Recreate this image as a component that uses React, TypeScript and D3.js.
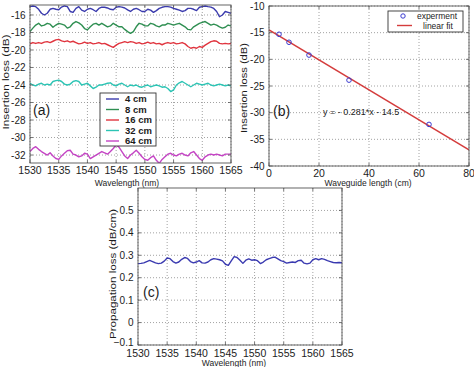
import React from "react";
import * as d3 from "d3";

// ---------- DATA ----------
const WAVELENGTHS: number[] = d3.range(0, 71).map((i) => 1530 + i * 0.5);

const LOSS_4CM = [
  -15.05, -14.98, -15.05, -15.35, -15.8, -16.0, -15.8, -15.35, -15.25, -15.35,
  -15.4, -15.1, -14.97, -15.05, -15.6, -15.7, -15.25, -15.05, -15.45, -15.6,
  -15.35, -15.25, -15.4, -15.6, -15.25, -15.1, -15.12, -15.2, -15.35, -15.4,
  -15.12, -15.05, -15.1, -15.2, -15.42, -15.6, -15.35, -15.25, -15.4, -15.6,
  -15.6, -15.35, -15.45, -15.7, -15.5, -15.25, -15.12, -15.05, -15.05, -15.1,
  -15.25, -15.35, -15.45, -15.6, -15.5, -15.25, -15.25, -15.35, -15.5, -15.12,
  -15.05, -14.98, -15.05, -15.1, -15.25, -15.6, -16.2, -16.0, -15.6, -15.7,
  -15.8,
];
const LOSS_8CM = [
  -17.9, -17.5, -17.15, -16.95, -17.25, -17.15, -16.95, -17.05, -17.4, -17.15,
  -16.95, -17.05, -17.15, -17.5, -17.35, -16.95, -16.75, -16.9, -17.15, -17.55,
  -17.7, -17.35, -17.05, -16.95, -17.15, -16.95, -17.15, -17.35, -17.25, -16.95,
  -17.15, -17.35, -17.35, -17.65, -17.9, -18.1, -17.9, -17.35, -16.95, -17.05,
  -17.25, -17.25, -16.95, -17.05, -17.25, -17.35, -17.15, -17.15, -16.95, -17.05,
  -17.15, -17.05, -16.95, -17.15, -17.35, -17.65, -17.7, -17.35, -17.15, -16.95,
  -16.85, -16.75, -16.95, -17.15, -17.05, -17.15, -17.35, -17.5, -17.4, -17.15,
  -17.25,
];
const LOSS_16CM = [
  -19.3, -19.15, -19.25, -19.15, -19.25, -19.1, -19.05, -19.15, -19.0, -18.85,
  -18.78, -18.95, -19.05, -18.95, -19.1, -19.0, -19.15, -19.3, -19.25, -19.1,
  -19.25, -19.15, -19.3, -19.25, -19.15, -19.3, -19.25, -19.4, -19.55, -19.7,
  -19.45, -19.25, -19.15, -19.05, -19.15, -19.05, -19.1, -19.25, -19.15, -19.3,
  -19.25, -19.1, -19.25, -19.15, -19.3, -19.25, -19.4, -19.25, -19.15, -19.25,
  -19.15, -19.3, -19.25, -19.15, -19.3, -19.6, -19.8, -19.7, -19.8, -19.6,
  -19.7, -19.45, -19.25, -19.05, -18.95, -19.0, -19.25, -19.3, -19.25, -19.3,
  -19.25,
];
const LOSS_32CM = [
  -23.8, -24.0, -24.1, -23.9, -23.8, -24.0, -23.9, -24.0, -23.6, -23.5,
  -23.45, -23.6, -23.9, -24.0, -23.9, -23.6, -23.5, -23.6, -24.0, -23.9,
  -23.8, -24.1, -24.4, -24.25, -24.0, -24.0, -23.9, -23.8, -23.75, -24.0,
  -24.1, -23.9, -23.8, -24.0, -24.2, -24.0, -24.1, -24.0, -24.2, -24.25,
  -24.1, -24.0, -24.2, -24.1, -24.0, -24.1, -24.25, -24.2, -24.4, -24.75,
  -24.55, -24.0, -23.75, -23.6, -23.8, -24.0, -24.2, -24.0, -23.8, -23.9,
  -24.0, -23.9, -23.8, -24.0, -24.1, -24.0, -23.9, -24.0, -24.1, -24.0,
  -24.1,
];
const LOSS_64CM = [
  -31.6, -31.25, -31.05, -31.35, -31.6, -31.8, -32.0, -31.75, -32.1, -32.4,
  -32.5, -32.1, -31.8, -31.5, -31.45, -31.9, -32.0, -32.2, -32.1, -31.8,
  -31.9, -32.4, -32.2, -32.0, -31.8, -31.6, -31.75, -31.9, -31.6, -31.25,
  -30.85, -31.1, -31.6, -32.1, -32.4, -32.0, -31.75, -31.45, -31.8, -32.2,
  -32.5, -32.6, -32.3, -32.1, -32.6, -32.95, -32.5, -32.2, -31.9, -31.8,
  -32.0, -32.1, -31.9, -31.8, -32.0, -32.1, -31.75, -31.6, -32.0, -32.4,
  -32.6, -32.2, -32.0, -31.9, -32.0, -31.9, -32.0, -32.1, -31.9, -31.9,
  -31.9,
];
const SERIES_NAMES = ["4 cm", "8 cm", "16 cm", "32 cm", "64 cm"];
const SERIES_COLORS = ["#3a3aad", "#2f8f52", "#e0343e", "#2cc4b4", "#c444c4"];
const SERIES_VALUES = [LOSS_4CM, LOSS_8CM, LOSS_16CM, LOSS_32CM, LOSS_64CM];

const LENGTHS_CM = [4, 8, 16, 32, 64];
const LOSS_MEASURED = [-15.3, -16.8, -19.2, -23.9, -32.2];
const FIT_X = [0, 80];
const FIT_Y = [-14.5, -36.98];

const PROP_LOSS = [
  0.263, 0.264, 0.266, 0.272, 0.277, 0.272, 0.266, 0.263, 0.265, 0.274,
  0.288, 0.285, 0.272, 0.265, 0.27, 0.282, 0.29, 0.286, 0.272, 0.266,
  0.27, 0.276, 0.266, 0.265, 0.27, 0.28, 0.285, 0.283, 0.28, 0.275,
  0.26, 0.255, 0.275, 0.294, 0.29, 0.278, 0.264, 0.278, 0.284, 0.278,
  0.28, 0.276, 0.263, 0.27, 0.28, 0.285, 0.29, 0.292, 0.284, 0.276,
  0.272, 0.265, 0.268, 0.27, 0.268, 0.276, 0.278, 0.265, 0.262, 0.265,
  0.28, 0.285, 0.28, 0.285, 0.282, 0.276, 0.272, 0.268, 0.267, 0.268,
  0.267,
];

const WL_TICKS = [1530, 1535, 1540, 1545, 1550, 1555, 1560, 1565];
const A_Y_TICKS = [-32, -30, -28, -26, -24, -22, -20, -18, -16];
const B_X_TICKS = [0, 20, 40, 60, 80];
const B_Y_TICKS = [-40, -35, -30, -25, -20, -15, -10];
const C_Y_TICKS = [-0.1, 0, 0.1, 0.2, 0.3, 0.4, 0.5];

// ---------- STYLE ----------
const FONT = "'Liberation Sans', Arial, Helvetica, sans-serif";
const TEXT = "#1c1c1c";
const XTICK_FS = 10.5;
const YTICK_FS = 10;

type AxesProps = {
  x: d3.ScaleLinear<number, number>;
  y: d3.ScaleLinear<number, number>;
  xTicks: number[];
  yTicks: number[];
  yFmt?: (v: number) => string;
  xLabelDy?: number;
  yLabelDy?: (v: number) => number;
  children?: React.ReactNode;
};

function Axes({ x, y, xTicks, yTicks, yFmt, xLabelDy = 11, yLabelDy, children }: AxesProps) {
  const [x0, x1] = x.range();
  const [y0, y1] = y.range(); // y0 bottom, y1 top
  const clipId = `clip-${Math.round(x0)}-${Math.round(y1)}`;
  return (
    <g>
      <defs>
        <clipPath id={clipId}>
          <rect x={x0} y={y1} width={x1 - x0} height={y0 - y1} />
        </clipPath>
      </defs>
      <rect x={x0} y={y1} width={x1 - x0} height={y0 - y1} fill="#fff" />
      {xTicks.map((t) => (
        <line key={"gx" + t} x1={x(t)} x2={x(t)} y1={y0} y2={y1}
          stroke="#8a8a8a" strokeWidth={0.8} strokeDasharray="1,2" />
      ))}
      {yTicks.map((t) => (
        <line key={"gy" + t} x1={x0} x2={x1} y1={y(t)} y2={y(t)}
          stroke="#8a8a8a" strokeWidth={0.8} strokeDasharray="1,2" />
      ))}
      <g clipPath={`url(#${clipId})`}>{children}</g>
      <rect x={x0} y={y1} width={x1 - x0} height={y0 - y1} fill="none"
        stroke="#555" strokeWidth={0.9} />
      {xTicks.map((t) => (
        <g key={"tx" + t}>
          <line x1={x(t)} x2={x(t)} y1={y0} y2={y0 - 3} stroke="#555" strokeWidth={0.8} />
          <line x1={x(t)} x2={x(t)} y1={y1} y2={y1 + 3} stroke="#555" strokeWidth={0.8} />
          <text x={x(t)} y={y0 + xLabelDy} textAnchor="middle" fontSize={XTICK_FS}
            fontFamily={FONT} fill={TEXT}>{t}</text>
        </g>
      ))}
      {yTicks.map((t) => (
        <g key={"ty" + t}>
          <line x1={x0} x2={x0 + 3} y1={y(t)} y2={y(t)} stroke="#555" strokeWidth={0.8} />
          <line x1={x1} x2={x1 - 3} y1={y(t)} y2={y(t)} stroke="#555" strokeWidth={0.8} />
          <text x={x0 - 4.5} y={y(t) + (yLabelDy ? yLabelDy(t) : 3.6)} textAnchor="end"
            fontSize={YTICK_FS} fontFamily={FONT} fill={TEXT}>{yFmt ? yFmt(t) : t}</text>
        </g>
      ))}
    </g>
  );
}

export default function App() {
  // Panel (a)
  const xa = d3.scaleLinear().domain([1530, 1565]).range([30, 231]);
  const ya = d3.scaleLinear().domain([-32.91, -14.86]).range([163, 5]);
  const lineA = (vals: number[]) =>
    d3.line<number>().x((_, i) => xa(WAVELENGTHS[i])).y((v) => ya(v))(vals) || "";

  // Panel (b)
  const xb = d3.scaleLinear().domain([0, 80]).range([269, 469]);
  const yb = d3.scaleLinear().domain([-40, -10]).range([166, 6]);
  const fitPath =
    d3.line<number>().x((v) => xb(v)).y((_, i) => yb(FIT_Y[i]))(FIT_X) || "";

  // Panel (c)
  const xc = d3.scaleLinear().domain([1530, 1565]).range([138, 342]);
  const yc = d3.scaleLinear().domain([-0.1, 0.6]).range([345, 188]);
  const lineC =
    d3.line<number>().x((_, i) => xc(WAVELENGTHS[i])).y((v) => yc(v))(PROP_LOSS) || "";

  const legendRows = [99, 109.5, 120, 130.5, 141];

  return (
    <svg width={474} height={367} viewBox="0 0 474 367"
      style={{ position: "absolute", left: 0, top: 0, background: "#fff" }}>
      <rect x={0} y={0} width={474} height={367} fill="#fff" />

      {/* ---------- (a) ---------- */}
      <Axes x={xa} y={ya} xTicks={WL_TICKS} yTicks={A_Y_TICKS}>
        {SERIES_VALUES.map((vals, k) => (
          <path key={k} d={lineA(vals)} fill="none" stroke={SERIES_COLORS[k]}
            strokeWidth={1.4} strokeLinejoin="round" />
        ))}
      </Axes>
      <text x={33} y={115} fontSize={14} fontFamily={FONT} fill={TEXT}>(a)</text>
      <g>
        <rect x={100} y={93} width={56} height={53} fill="#fff" stroke="#333" strokeWidth={0.9} />
        {SERIES_NAMES.map((name, k) => (
          <g key={name}>
            <line x1={106} x2={119} y1={legendRows[k]} y2={legendRows[k]}
              stroke={SERIES_COLORS[k]} strokeWidth={1.4} />
            <text x={125} y={legendRows[k] + 3.3} fontSize={9.5} fontWeight="bold"
              fontFamily={FONT} fill={TEXT}>{name}</text>
          </g>
        ))}
      </g>
      <text transform="translate(8.5,82) rotate(-90)" textAnchor="middle" fontSize={9}
        textLength={95} lengthAdjust="spacingAndGlyphs"
        fontFamily={FONT} fill={TEXT}>Insertion loss (dB)</text>
      <text x={127} y={186} textAnchor="middle" fontSize={8.5}
        fontFamily={FONT} fill={TEXT}>Wavelength (nm)</text>

      {/* ---------- (b) ---------- */}
      <Axes x={xb} y={yb} xTicks={B_X_TICKS} yTicks={B_Y_TICKS}>
        <path d={fitPath} fill="none" stroke="#d43c3c" strokeWidth={1.5} />
        {LENGTHS_CM.map((l, i) => (
          <circle key={l} cx={xb(l)} cy={yb(LOSS_MEASURED[i])} r={2.3}
            fill="none" stroke="#3a3ad0" strokeWidth={1} />
        ))}
      </Axes>
      <text x={273} y={116} fontSize={14} fontFamily={FONT} fill={TEXT}>(b)</text>
      <text x={323} y={115} fontSize={9} fontFamily={FONT} fill={TEXT}>y = - 0.281*x - 14.5</text>
      <g>
        <rect x={388} y={11} width={75} height={21} fill="#fff" stroke="#333" strokeWidth={0.9} />
        <circle cx={403} cy={16} r={2.2} fill="none" stroke="#3a3ad0" strokeWidth={1} />
        <text x={437} y={19} textAnchor="middle" fontSize={8.5} fontFamily={FONT} fill={TEXT}>experment</text>
        <line x1={397} x2={412} y1={25.5} y2={25.5} stroke="#d43c3c" strokeWidth={1.4} />
        <text x={438} y={28.5} textAnchor="middle" fontSize={8.5} fontFamily={FONT} fill={TEXT}>linear fit</text>
      </g>
      <text transform="translate(247,88) rotate(-90)" textAnchor="middle" fontSize={9}
        textLength={90} lengthAdjust="spacingAndGlyphs"
        fontFamily={FONT} fill={TEXT}>Insertion loss (dB)</text>
      <text x={368} y={186} textAnchor="middle" fontSize={8.5}
        fontFamily={FONT} fill={TEXT}>Waveguide length (cm)</text>

      {/* ---------- (c) ---------- */}
      <Axes x={xc} y={yc} xTicks={WL_TICKS} yTicks={C_Y_TICKS} xLabelDy={12}
        yLabelDy={(v) => (v < 0 ? 1.2 : 3.6)}
        yFmt={(v) => (v === 0 ? "0" : d3.format(".1f")(v))}>
        <path d={lineC} fill="none" stroke="#3a3ab0" strokeWidth={1.4} strokeLinejoin="round" />
      </Axes>
      <text x={143} y={297} fontSize={14} fontFamily={FONT} fill={TEXT}>(c)</text>
      <text transform="translate(116,274) rotate(-90)" textAnchor="middle" fontSize={9}
        textLength={130} lengthAdjust="spacingAndGlyphs"
        fontFamily={FONT} fill={TEXT}>Propagation loss (dB/cm)</text>
      <text x={234} y={366} textAnchor="middle" fontSize={8.5}
        fontFamily={FONT} fill={TEXT}>Wavelength (nm)</text>
    </svg>
  );
}
